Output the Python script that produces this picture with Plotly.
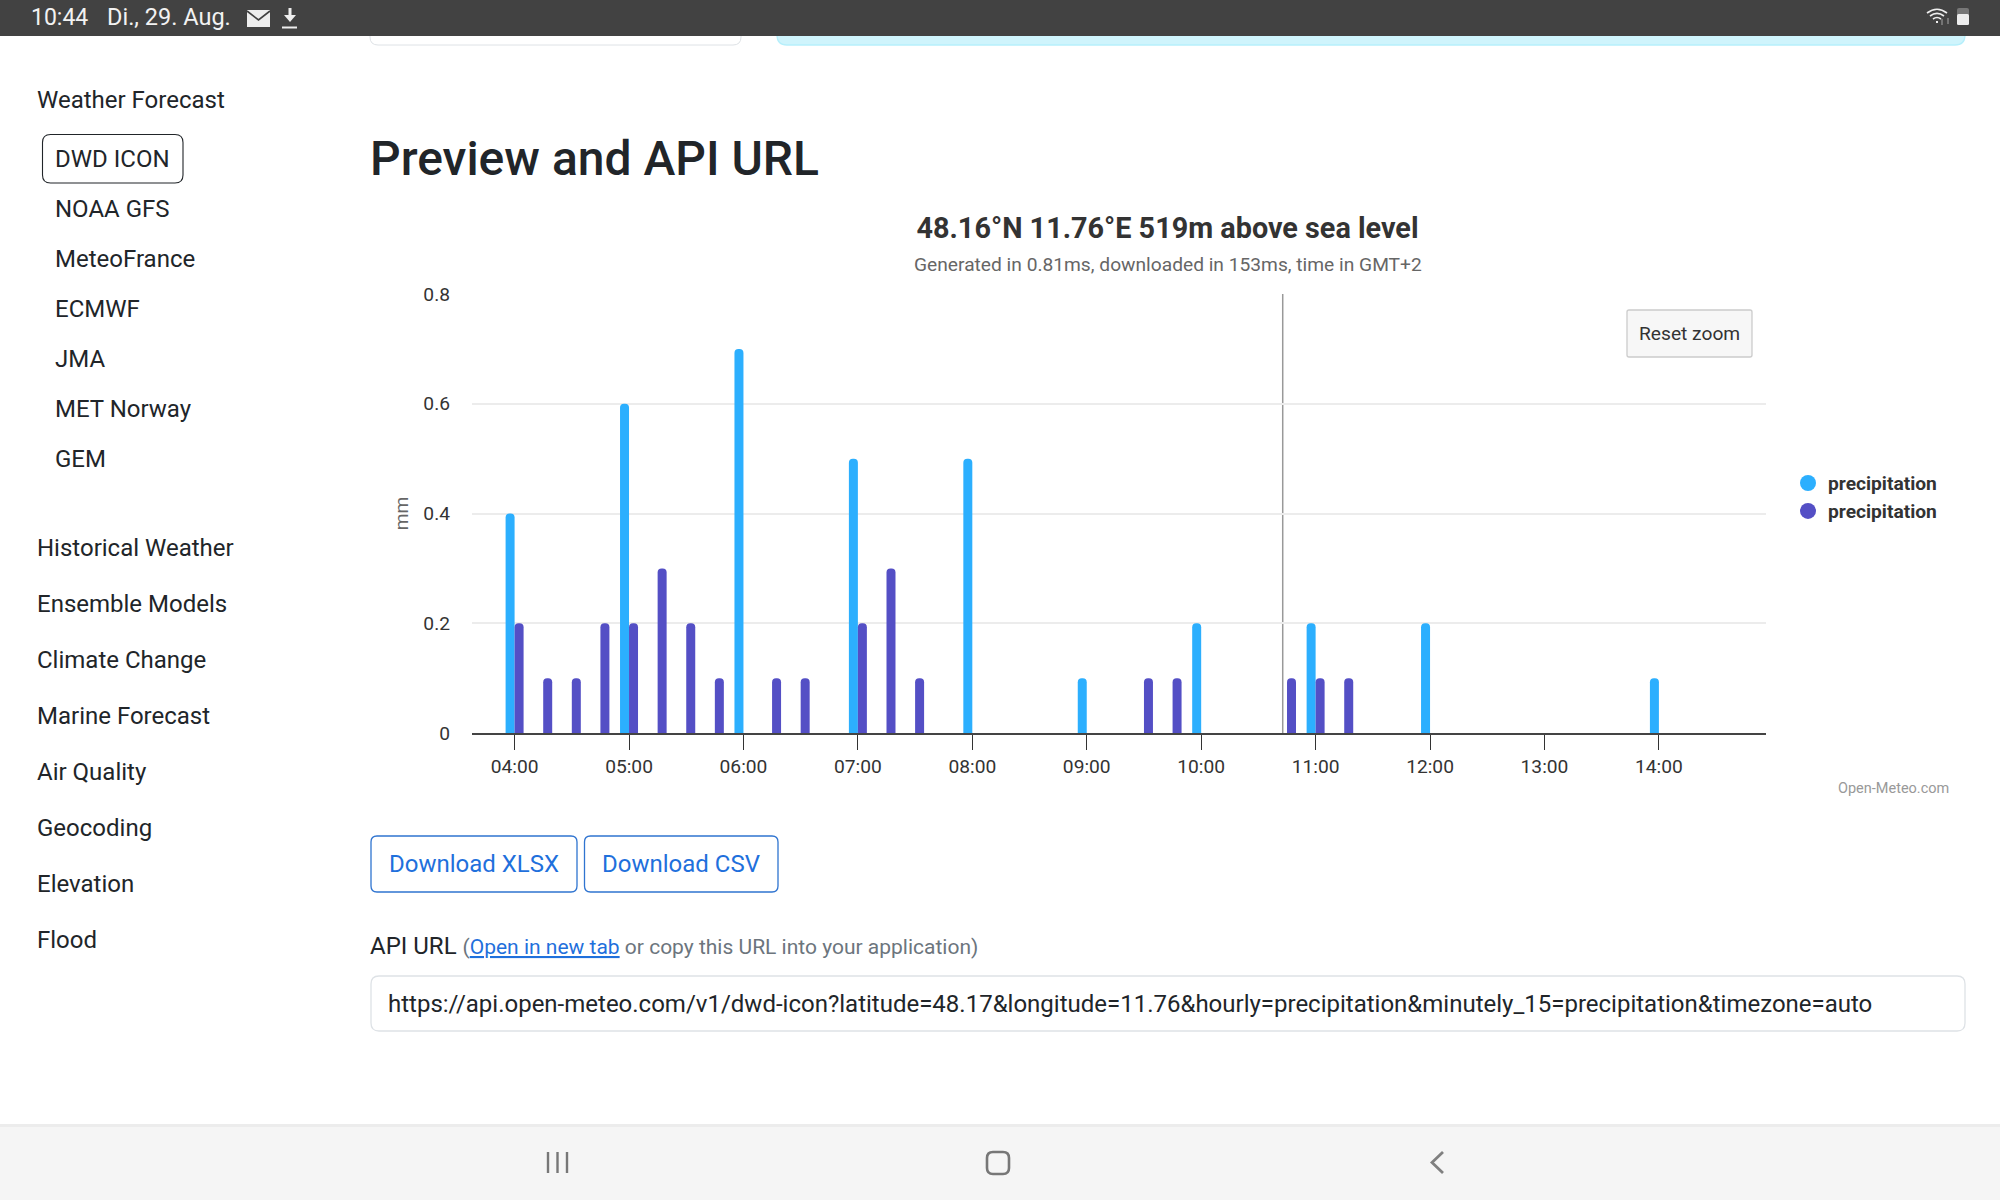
import plotly.graph_objects as go

W, H = 2000, 1200
DAY = "2023-08-29 "

hourly_times = ["04:00", "05:00", "06:00", "07:00", "08:00", "09:00", "10:00", "11:00", "12:00", "14:00"]
hourly_values = [0.4, 0.6, 0.7, 0.5, 0.5, 0.1, 0.2, 0.2, 0.2, 0.1]
minutely_times = ["04:00", "04:15", "04:30", "04:45", "05:00", "05:15", "05:30", "05:45", "06:15", "06:30",
                  "07:00", "07:15", "07:30", "09:30", "09:45", "10:45", "11:00", "11:15"]
minutely_values = [0.2, 0.1, 0.1, 0.2, 0.2, 0.3, 0.2, 0.1, 0.1, 0.1,
                   0.2, 0.3, 0.1, 0.1, 0.1, 0.1, 0.1, 0.1]
x_ticks = ["04:00", "05:00", "06:00", "07:00", "08:00", "09:00", "10:00", "11:00", "12:00", "13:00", "14:00"]
y_ticks = [0, 0.2, 0.4, 0.6, 0.8]
y_labels = ["0", "0.2", "0.4", "0.6", "0.8"]
now_time = "10:42:45"
x_start, x_end = "03:37:40", "14:56:09"

nav_main = [("Weather Forecast", 100.5)]
nav_models = [("DWD ICON", 159), ("NOAA GFS", 209), ("MeteoFrance", 259), ("ECMWF", 309),
              ("JMA", 359), ("MET Norway", 409), ("GEM", 459)]
nav_other = [("Historical Weather", 548), ("Ensemble Models", 604), ("Climate Change", 660),
             ("Marine Forecast", 716), ("Air Quality", 772), ("Geocoding", 828),
             ("Elevation", 884), ("Flood", 940)]

BLUE, PURPLE = "#2caffe", "#544fc5"
DARK, LINK = "#212529", "#1f70dc"
BAR_MS = 283000


def fx(x):
    return x / W


def fy(y):
    return 1 - y / H


fig = go.Figure()
fig.add_bar(x=[DAY + t for t in hourly_times], y=hourly_values, name="precipitation",
            marker=dict(color=BLUE, line_width=0), width=BAR_MS, offset=-BAR_MS, showlegend=False)
fig.add_bar(x=[DAY + t for t in minutely_times], y=minutely_values, name="precipitation",
            marker=dict(color=PURPLE, line_width=0), width=BAR_MS, offset=0, showlegend=False)
for c in (BLUE, PURPLE):
    fig.add_scatter(x=[None], y=[None], mode="markers", name="precipitation",
                    marker=dict(color=c, size=17, symbol="circle"))

shapes, notes = [], []


def rect(x0, y0, x1, y1, fill="rgba(0,0,0,0)", line="rgba(0,0,0,0)", lw=0):
    shapes.append(dict(type="rect", xref="paper", yref="paper", x0=fx(x0), x1=fx(x1), y0=fy(y0), y1=fy(y1),
                       fillcolor=fill, line=dict(color=line, width=lw), layer="below"))


def path(d, fill="rgba(0,0,0,0)", line="rgba(0,0,0,0)", lw=0):
    out = []
    for tok in d:
        if isinstance(tok, str):
            out.append(tok)
        else:
            out.append(f"{fx(tok[0]):.6f},{fy(tok[1]):.6f}")
    shapes.append(dict(type="path", xref="paper", yref="paper", path=" ".join(out),
                       fillcolor=fill, line=dict(color=line, width=lw), layer="below"))


def rrect(x0, y0, x1, y1, r, **kw):
    path(["M", (x0 + r, y0), "L", (x1 - r, y0), "Q", (x1, y0), (x1, y0 + r), "L", (x1, y1 - r),
          "Q", (x1, y1), (x1 - r, y1), "L", (x0 + r, y1), "Q", (x0, y1), (x0, y1 - r), "L", (x0, y0 + r),
          "Q", (x0, y0), (x0 + r, y0), "Z"], **kw)


def seg(pts, color, lw):
    d = []
    for i, p in enumerate(pts):
        d += ["M" if i == 0 else "L", p]
    path(d, line=color, lw=lw)


def txt(x, y, s, size=24, color=DARK, anchor="left", weight="normal"):
    notes.append(dict(xref="paper", yref="paper", x=fx(x), y=fy(y), text=s, showarrow=False,
                      xanchor=anchor, yanchor="middle", align=anchor, borderpad=0, borderwidth=0,
                      font=dict(family="Roboto", size=size, color=color, weight=weight)))


# Clipped cards under the status bar
rrect(370, 10, 741, 45, 8, fill="#ffffff", line="#dee2e6", lw=1)
rrect(777, 10, 1965, 45, 10, fill="#cff4fc", line="#b6effb", lw=1.3)

# Status bar
rect(0, 0, W, 36, fill="#424242")
txt(31, 17.5, "10:44", 23, "#f2f2f2")
txt(107, 17.5, "Di., 29. Aug.", 23.5, "#f2f2f2")
rect(247, 10, 270, 27, fill="#eeeeee")
seg([(247, 11), (258.5, 20), (270, 11)], "#424242", 1.6)
seg([(290, 8), (290, 20)], "#eeeeee", 3)
path(["M", (284, 15), "L", (296, 15), "L", (290, 22), "Z"], fill="#eeeeee")
seg([(282, 27.5), (297, 27.5)], "#eeeeee", 2)
for rx, yy in ((10, 13), (7, 16), (4, 19)):
    path(["M", (1937 - rx, yy), "Q", (1937, yy - rx * 0.75), (1937 + rx, yy)], line="#eeeeee", lw=1.6)
rect(1936, 21, 1938, 23, fill="#eeeeee")
seg([(1942, 19), (1942, 25)], "#8a8a8a", 1.4)
seg([(1948, 18), (1948, 24)], "#8a8a8a", 1.4)
rrect(1957, 8, 1969, 25, 2, fill="#777777")
rrect(1957, 14, 1969, 25, 1.5, fill="#eeeeee")

# Sidebar
for name, y in nav_main + nav_other:
    txt(37, y, name)
rrect(42.5, 134.5, 183, 183, 8, line=DARK, lw=1.1)
for name, y in nav_models:
    txt(55, y, name)

txt(369.5, 158.2, "Preview and API URL", 48, DARK, weight=500)

# Chart furniture
txt(1167.5, 264.2, "Generated in 0.81ms, downloaded in 153ms, time in GMT+2", 19.2, "#666666", "center")
rrect(1627, 310, 1752, 357, 2, fill="#f7f7f7", line="#cccccc", lw=1.3)
txt(1689.5, 333.5, "Reset zoom", 19.2, "#333333", "center")
txt(1949, 788, "Open-Meteo.com", 14.5, "#999999", "right")

# Buttons and API URL
rrect(371, 836, 577, 892, 6, line="#2f74d0", lw=1.3)
rrect(584.5, 836, 778, 892, 6, line="#2f74d0", lw=1.3)
txt(474, 864, "Download XLSX", 24, LINK, "center")
txt(681, 864, "Download CSV", 24, LINK, "center")
txt(370, 946.5,
    'API URL <span style="color:#6c757d;font-size:21px">(</span>'
    f'<span style="color:{LINK};font-size:21px;text-decoration:underline">Open in new tab</span>'
    '<span style="color:#6c757d;font-size:21px"> or copy this URL into your application)</span>', 24, DARK)
rrect(371, 976, 1965, 1031, 8, fill="#ffffff", line="#dee2e6", lw=1.3)
txt(388, 1003.5,
    "https://api.open-meteo.com/v1/dwd-icon?latitude=48.17&longitude=11.76&hourly=precipitation"
    "&minutely_15=precipitation&timezone=auto", 24, DARK)

# Navigation bar
rect(0, 1124, W, 1128, fill="#ececec")
rect(0, 1127, W, H, fill="#f5f5f5")
for xx in (548, 557.5, 567):
    seg([(xx, 1152), (xx, 1173)], "#777777", 2.4)
rrect(987, 1152, 1009, 1174, 6, line="#777777", lw=2.6)
seg([(1443, 1152), (1432, 1162.5), (1443, 1173)], "#808080", 2.8)

# Current-time plot line, on the chart's own axes
shapes.append(dict(type="line", xref="x", yref="y", x0=DAY + now_time, x1=DAY + now_time, y0=0, y1=0.8,
                   line=dict(color="#999999", width=1.5), layer="below"))

fig.update_layout(
    width=W, height=H, autosize=False,
    margin=dict(l=0, r=0, t=0, b=0, pad=0, autoexpand=False),
    paper_bgcolor="#ffffff", plot_bgcolor="rgba(0,0,0,0)",
    font=dict(family="Roboto", color="#333333"),
    barmode="overlay", barcornerradius=5,
    title=dict(text="<b>48.16°N 11.76°E 519m above sea level</b>", xref="paper", yref="paper",
               x=fx(1167.5), y=fy(228.2), xanchor="center", yanchor="middle",
               font=dict(family="Roboto", size=28.8, color="#333333")),
    xaxis=dict(type="date", domain=[fx(472), fx(1766)], range=[DAY + x_start, DAY + x_end],
               tickmode="array", tickvals=[DAY + t for t in x_ticks], ticktext=x_ticks,
               ticks="outside", ticklen=15, tickwidth=1.3, tickcolor="#333333",
               showline=True, linecolor="#444444", linewidth=1.7, showgrid=False, zeroline=False,
               tickfont=dict(family="Roboto", size=19.2, color="#333333")),
    yaxis=dict(domain=[fy(733), fy(294)], range=[0, 0.8],
               tickmode="array", tickvals=y_ticks, ticktext=y_labels,
               ticks="", ticklabelstandoff=21, showline=False, zeroline=False,
               showgrid=True, gridcolor="#ececec", gridwidth=1.5,
               tickfont=dict(family="Roboto", size=19.2, color="#333333"),
               title=dict(text="mm", font=dict(family="Roboto", size=19.2, color="#666666"), standoff=9)),
    legend=dict(x=fx(1788), y=fy(464), xanchor="left", yanchor="top", bgcolor="rgba(0,0,0,0)",
                font=dict(family="Roboto", size=19.2, color="#333333", weight="bold")),
    shapes=shapes, annotations=notes,
)

fig.write_html("out.html", post_script="document.body.style.margin='0';document.body.style.overflow='hidden';",
               config=dict(displayModeBar=False))
